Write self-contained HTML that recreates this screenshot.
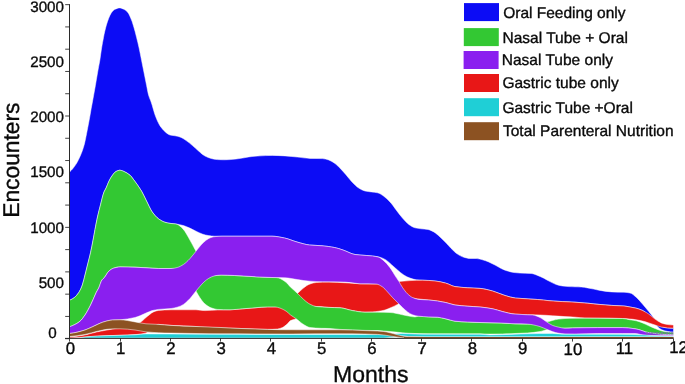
<!DOCTYPE html>
<html><head><meta charset="utf-8"><title>Encounters by feeding type</title>
<style>
html,body{margin:0;padding:0;background:#fff;}
body{width:685px;height:384px;overflow:hidden;}
svg{display:block;font-family:"Liberation Sans",Arial,sans-serif;}
text{fill:#0a0a0a;stroke:#0a0a0a;stroke-width:0.35px;text-rendering:geometricPrecision;}
</style></head><body>
<svg width="685" height="384" viewBox="0 0 685 384">
<rect width="685" height="384" fill="#fff"/>
<g stroke="#fff" stroke-width="0.5" stroke-linejoin="round">
<path fill="#0c0cf5" d="M69.5 172.0C69.7 171.8 69.8 171.7 70.0 171.5C70.8 170.7 71.7 170.0 72.5 169.0C74.0 167.3 75.4 165.2 76.9 162.8C77.9 161.0 79.0 158.8 80.0 156.5C80.8 154.6 81.7 152.6 82.5 150.2C83.1 148.4 83.8 146.5 84.4 144.0C85.1 141.2 85.9 137.2 86.6 133.5C87.4 129.5 88.2 125.3 89.0 121.0C89.8 117.0 90.5 112.7 91.2 108.5C92.0 104.3 92.8 100.2 93.5 96.0C94.1 92.5 94.8 89.1 95.4 85.5C96.1 81.5 96.8 77.0 97.5 73.0C98.2 68.7 99.0 65.1 99.8 60.5C100.4 56.7 101.0 51.8 101.6 48.0C102.2 44.1 102.9 40.8 103.5 37.5C103.9 35.3 104.3 33.1 104.8 31.2C105.3 28.9 105.9 26.8 106.4 25.0C107.1 22.7 107.8 20.5 108.5 18.8C109.5 16.2 110.6 13.8 111.6 12.5C112.7 11.0 113.9 9.8 115.0 9.3C116.5 8.6 118.0 7.9 119.5 7.9C121.0 7.9 122.5 8.6 124.0 9.3C125.3 9.9 126.6 11.0 127.9 12.5C128.9 13.7 130.0 16.3 131.0 18.8C131.8 20.5 132.5 22.6 133.2 25.0C133.8 26.8 134.4 29.1 135.0 31.2C135.5 33.2 136.1 35.3 136.6 37.5C137.4 40.9 138.3 44.2 139.1 48.0C139.9 51.8 140.8 56.3 141.6 60.5C142.4 64.7 143.3 68.8 144.1 73.0C144.9 77.2 145.8 81.4 146.6 85.5C147.3 89.0 148.0 93.3 148.8 95.8C149.6 98.6 150.4 99.8 151.2 102.2C151.9 104.1 152.5 106.4 153.1 108.5C153.7 110.6 154.4 112.9 155.0 114.8C155.8 117.1 156.7 119.2 157.5 121.0C158.7 123.5 159.8 125.7 161.0 127.2C162.5 129.3 164.1 131.0 165.6 132.2C167.1 133.4 168.5 134.6 170.0 135.0C171.7 135.4 173.3 135.4 175.0 135.8C176.7 136.1 178.3 136.4 180.0 137.0C182.1 137.7 184.2 139.2 186.2 140.6C188.3 142.0 190.4 143.8 192.5 145.6C194.6 147.4 196.7 149.5 198.8 151.2C200.8 153.0 202.9 154.9 205.0 156.0C207.1 157.1 209.2 158.0 211.2 158.5C213.3 159.0 215.4 159.5 217.5 159.6C219.6 159.7 221.7 159.8 223.8 159.8C225.8 159.8 227.9 159.7 230.0 159.6C232.1 159.5 234.2 159.2 236.2 159.0C238.3 158.8 240.4 158.4 242.5 158.1C244.6 157.8 246.7 157.2 248.8 156.9C250.8 156.6 252.9 156.4 255.0 156.2C258.5 156.0 262.1 155.7 265.6 155.6C267.9 155.5 270.2 155.4 272.5 155.4C276.7 155.4 280.8 155.7 285.0 155.9C289.2 156.1 293.3 156.7 297.5 157.1C301.7 157.5 305.8 158.3 310.0 158.4C314.2 158.5 318.3 158.5 322.5 158.6C324.6 158.7 326.7 159.3 328.8 160.0C330.8 160.7 332.9 162.0 335.0 163.5C337.1 165.0 339.2 167.3 341.2 169.4C342.9 171.1 344.6 173.1 346.2 175.0C348.3 177.4 350.4 180.4 352.5 182.5C354.6 184.6 356.7 186.8 358.8 188.1C360.8 189.4 362.9 190.5 365.0 191.0C367.1 191.5 369.2 191.6 371.2 191.9C373.3 192.2 375.4 192.3 377.5 192.8C379.6 193.2 381.7 194.8 383.8 196.2C385.8 197.7 387.9 199.7 390.0 201.9C392.1 204.1 394.2 207.3 396.2 210.0C398.3 212.7 400.4 215.7 402.5 218.1C404.6 220.5 406.7 222.9 408.8 224.4C410.8 225.9 412.9 227.2 415.0 227.8C417.1 228.3 419.2 228.5 421.2 228.8C423.3 229.0 425.4 229.1 427.5 229.4C429.6 229.7 431.7 230.8 433.8 231.9C435.8 233.0 437.9 235.1 440.0 236.9C442.1 238.7 444.2 240.9 446.2 243.1C447.9 244.8 449.6 246.9 451.2 248.5C453.3 250.5 455.4 252.8 457.5 254.1C459.6 255.4 461.7 256.7 463.8 257.2C465.8 257.8 467.9 258.5 470.0 258.5C472.1 258.5 474.2 258.5 476.2 258.5C478.3 258.5 480.4 259.2 482.5 259.8C484.6 260.3 486.7 261.1 488.8 262.0C490.8 262.9 492.9 263.9 495.0 265.0C497.1 266.1 499.2 267.5 501.2 268.5C503.3 269.5 505.4 270.4 507.5 271.0C509.6 271.6 511.7 272.2 513.8 272.5C515.8 272.8 517.9 273.0 520.0 273.1C523.8 273.3 527.5 273.2 531.2 273.5C533.3 273.6 535.4 274.6 537.5 275.4C539.6 276.2 541.7 277.2 543.8 278.2C545.8 279.3 547.9 280.6 550.0 281.6C552.1 282.6 554.2 283.8 556.2 284.5C558.3 285.2 560.4 285.7 562.5 286.0C564.6 286.3 566.7 286.5 568.8 286.6C570.8 286.7 572.9 286.7 575.0 286.8C577.1 286.8 579.2 286.9 581.2 287.0C583.3 287.1 585.4 287.6 587.5 287.9C589.6 288.2 591.7 288.7 593.8 289.1C595.8 289.5 597.9 290.1 600.0 290.4C603.8 291.0 607.7 291.7 611.5 291.9C615.7 292.1 619.8 292.0 624.0 292.2C626.0 292.3 628.0 292.6 630.0 293.0C632.1 293.4 634.2 295.5 636.2 297.2C638.3 299.0 640.4 301.6 642.5 304.0C644.6 306.4 646.7 309.0 648.8 311.6C650.4 313.7 652.1 315.9 653.8 317.9C655.2 319.6 656.6 321.4 658.0 323.0C659.1 324.2 660.2 326.2 661.2 326.6C663.3 327.4 665.4 327.7 667.5 327.9C669.5 328.1 671.5 328.2 673.5 328.2L673.5 332.0C671.5 332.0 669.5 331.7 667.5 331.4C665.4 331.1 663.3 330.4 661.2 329.5C659.8 328.8 658.4 327.4 656.9 326.0C655.6 324.8 654.3 323.1 653.0 321.5C651.6 319.8 650.2 317.5 648.8 316.0C646.7 313.8 644.6 311.4 642.5 310.4C640.4 309.4 638.3 308.8 636.2 308.2C634.2 307.7 632.1 307.4 630.0 307.0C628.0 306.6 626.0 306.2 624.0 306.0C619.8 305.7 615.7 305.6 611.5 305.4C607.3 305.1 603.2 304.8 599.0 304.4C595.2 304.1 591.3 303.6 587.5 303.2C583.3 302.9 579.2 302.5 575.0 302.2C570.8 302.0 566.7 301.8 562.5 301.6C558.3 301.4 554.2 301.1 550.0 300.8C545.8 300.4 541.7 299.8 537.5 299.5C533.3 299.2 529.2 299.0 525.0 298.7C521.9 298.5 518.7 298.4 515.6 298.1C512.1 297.7 508.5 296.5 505.0 295.5C500.8 294.3 496.7 292.1 492.5 291.0C488.3 289.9 484.2 288.7 480.0 288.4C475.8 288.1 471.7 288.0 467.5 287.8C463.3 287.5 459.2 287.2 455.0 286.6C451.9 286.1 448.7 283.9 445.6 283.1C442.1 282.2 438.5 281.3 435.0 281.0C430.8 280.6 426.7 280.5 422.5 280.2C420.4 280.1 418.3 280.0 416.2 279.8C414.2 279.5 412.1 278.8 410.0 278.1C407.9 277.4 405.8 276.3 403.8 275.0C401.7 273.7 399.6 271.8 397.5 270.0C395.4 268.2 393.3 266.2 391.2 264.4C389.2 262.6 387.1 260.5 385.0 259.4C382.9 258.3 380.8 257.3 378.8 256.9C376.7 256.5 374.6 256.2 372.5 256.0C368.3 255.6 364.2 255.4 360.0 255.0C358.3 254.8 356.7 254.7 355.0 254.5C351.0 253.9 347.0 251.3 343.0 250.0C340.2 249.1 337.3 248.0 334.5 247.5C330.3 246.7 326.2 246.1 322.0 245.8C317.8 245.4 313.7 245.4 309.5 245.0C305.3 244.6 301.2 243.1 297.0 242.0C292.8 240.9 288.7 238.8 284.5 238.0C280.3 237.2 276.2 236.2 272.0 236.2C263.7 236.2 255.3 236.2 247.0 236.2C238.7 236.2 230.3 236.2 222.0 236.2C219.6 236.2 217.2 236.2 214.8 236.2C212.7 236.2 210.6 235.9 208.5 235.6C206.4 235.3 204.3 234.7 202.2 234.0C200.2 233.3 198.1 232.2 196.0 231.2C193.9 230.3 191.8 229.0 189.8 228.1C187.7 227.2 185.6 226.2 183.5 225.6C181.0 224.9 178.5 224.3 176.0 224.0C174.3 223.8 172.7 223.7 171.0 223.5C168.9 223.2 166.8 222.9 164.8 222.2C162.7 221.6 160.6 220.3 158.5 218.8C156.4 217.2 154.3 214.8 152.2 211.9C150.2 209.0 148.1 204.1 146.0 200.0C144.6 197.3 143.3 194.2 141.9 191.8C141.1 190.3 140.2 189.0 139.4 187.8C137.9 185.5 136.5 183.5 135.0 181.5C133.3 179.3 131.7 176.7 130.0 175.2C128.0 173.6 126.0 172.3 124.0 171.5C122.6 170.9 121.2 170.2 119.8 170.2C118.5 170.2 117.2 170.9 116.0 171.5C114.8 172.1 113.7 173.7 112.5 175.2C111.2 176.9 110.0 179.0 108.8 181.5C107.9 183.2 107.1 186.0 106.2 187.8C105.5 189.4 104.8 190.2 104.0 192.0C102.9 194.8 101.7 200.1 100.6 204.5C99.6 208.5 98.5 212.4 97.5 217.0C96.7 220.7 95.8 225.1 95.0 229.5C94.4 232.8 93.7 236.7 93.1 240.0C92.3 244.4 91.4 248.8 90.6 252.5C89.6 257.1 88.5 260.8 87.5 265.0C86.5 269.2 85.4 273.5 84.4 277.5C84.2 278.3 84.0 279.2 83.8 280.0C83.1 282.2 82.5 284.7 81.9 286.2C80.9 288.9 79.8 290.9 78.8 292.5C77.3 294.6 75.9 296.4 74.4 297.5C73.0 298.6 71.6 299.4 70.2 300.0C70.0 300.1 69.8 300.2 69.5 300.3Z"/>
<path fill="#e81717" d="M69.5 337.0C74.7 336.6 79.8 335.8 85.0 334.9C89.2 334.2 93.3 332.6 97.5 331.8C101.7 330.9 105.8 330.3 110.0 329.5C113.3 328.9 116.7 328.2 120.0 327.5C123.3 326.8 126.7 326.3 130.0 325.5C133.3 324.7 136.7 324.0 140.0 322.5C142.0 321.6 144.0 319.2 146.0 317.5C147.2 316.5 148.5 315.3 149.8 314.4C151.0 313.5 152.2 312.4 153.5 311.9C155.2 311.2 156.8 310.6 158.5 310.4C162.7 310.0 166.8 309.8 171.0 309.8C179.3 309.8 187.7 309.8 196.0 309.8C199.0 309.8 202.0 310.6 205.0 310.6C209.2 310.6 213.3 310.1 217.5 310.0C221.7 309.9 225.8 309.9 230.0 309.8C234.2 309.6 238.3 309.1 242.5 308.8C246.7 308.4 250.8 308.1 255.0 307.8C259.2 307.4 263.3 306.9 267.5 306.9C270.0 306.9 272.5 306.9 275.0 306.9C277.3 306.9 279.7 305.2 282.0 304.0C284.7 302.7 287.3 300.8 290.0 299.0C292.5 297.3 295.0 295.5 297.5 293.4C299.6 291.7 301.7 289.3 303.8 287.8C305.8 286.2 307.9 284.7 310.0 284.0C312.1 283.3 314.2 282.6 316.2 282.5C320.4 282.2 324.6 282.1 328.8 282.1C334.4 282.1 340.0 282.5 345.6 282.8C350.4 283.0 355.2 283.6 360.0 283.8C365.4 283.9 370.8 284.0 376.2 284.0C379.2 284.0 382.1 283.6 385.0 283.3C387.3 283.1 389.7 282.8 392.0 282.5C394.2 282.2 396.5 281.7 398.8 281.5C402.5 281.1 406.2 280.8 410.0 280.6C414.2 280.4 418.3 280.2 422.5 280.2C426.7 280.2 430.8 280.6 435.0 281.0C438.5 281.3 442.1 282.2 445.6 283.1C448.7 283.9 451.9 286.1 455.0 286.6C459.2 287.2 463.3 287.5 467.5 287.8C471.7 288.0 475.8 288.1 480.0 288.4C484.2 288.7 488.3 289.9 492.5 291.0C496.7 292.1 500.8 294.3 505.0 295.5C508.5 296.5 512.1 297.7 515.6 298.1C518.7 298.4 521.9 298.5 525.0 298.7C529.2 299.0 533.3 299.2 537.5 299.5C541.7 299.8 545.8 300.4 550.0 300.8C554.2 301.1 558.3 301.4 562.5 301.6C566.7 301.8 570.8 302.0 575.0 302.2C579.2 302.5 583.3 302.9 587.5 303.2C591.3 303.6 595.2 304.1 599.0 304.4C603.2 304.8 607.3 305.1 611.5 305.4C615.7 305.6 619.8 305.7 624.0 306.0C626.0 306.2 628.0 306.6 630.0 307.0C632.1 307.4 634.2 307.7 636.2 308.2C638.3 308.8 640.4 309.5 642.5 310.4C644.6 311.3 646.7 312.7 648.8 314.1C650.8 315.5 652.9 317.7 655.0 319.1C657.1 320.5 659.2 322.1 661.2 322.9C663.3 323.7 665.4 324.2 667.5 324.5C669.5 324.8 671.5 325.0 673.5 325.0L673.5 328.2C671.5 328.2 669.5 328.1 667.5 327.9C665.4 327.7 663.3 327.4 661.2 327.0C659.2 326.6 657.1 325.7 655.0 325.0C652.9 324.3 650.8 323.6 648.8 322.9C646.7 322.2 644.6 321.5 642.5 321.0C640.4 320.5 638.3 320.1 636.2 319.8C634.2 319.4 632.1 319.2 630.0 319.0C627.5 318.8 625.0 318.6 622.5 318.5C618.3 318.3 614.2 318.3 610.0 318.2C601.7 318.1 593.3 318.1 585.0 318.0C581.9 317.9 578.7 317.5 575.6 317.2C572.1 317.0 568.5 316.8 565.0 316.6C560.8 316.3 556.7 316.0 552.5 315.8C548.3 315.5 544.2 315.1 540.0 315.0C535.8 314.9 531.7 314.9 527.5 314.8C523.3 314.6 519.2 314.4 515.0 314.1C510.8 313.8 506.7 312.6 502.5 311.6C499.2 310.8 495.8 309.4 492.5 308.8C488.3 308.0 484.2 307.4 480.0 307.0C475.8 306.6 471.7 306.6 467.5 306.2C463.3 305.9 459.2 305.6 455.0 305.0C451.9 304.5 448.7 303.2 445.6 302.5C442.9 301.9 440.2 301.4 437.5 301.0C434.6 300.6 431.7 300.3 428.8 300.0C425.0 299.6 421.2 299.3 417.5 298.9C415.4 298.7 413.3 298.0 411.2 298.0C409.2 298.0 407.1 299.6 405.0 300.5C403.3 301.3 401.7 302.2 400.0 303.1C399.2 303.5 398.3 304.0 397.5 304.4C395.4 305.5 393.3 306.6 391.2 307.5C389.2 308.4 387.1 309.4 385.0 310.0C382.9 310.6 380.8 311.0 378.8 311.2C376.7 311.5 374.6 311.8 372.5 311.9C370.0 312.1 367.5 312.2 365.0 312.2C360.8 312.2 356.7 311.3 352.5 310.6C348.3 309.9 344.2 308.0 340.0 307.8C336.2 307.5 332.5 307.6 328.8 307.4C324.6 307.2 320.4 306.5 316.2 306.5C314.2 306.5 312.1 306.5 310.0 306.5C308.3 306.5 306.7 309.0 305.0 310.5C303.3 312.0 301.7 314.0 300.0 315.5C298.8 316.7 297.5 318.1 296.2 318.8C294.4 319.7 292.5 319.6 290.6 320.6C289.6 321.1 288.5 322.8 287.5 323.8C285.8 325.2 284.2 326.8 282.5 327.5C280.8 328.2 279.2 328.9 277.5 329.0C274.2 329.3 270.8 329.4 267.5 329.4C263.3 329.4 259.2 329.1 255.0 329.0C246.7 328.7 238.3 328.4 230.0 328.1C221.7 327.8 213.3 327.7 205.0 327.2C202.0 327.1 199.0 326.7 196.0 326.5C187.7 326.0 179.3 325.9 171.0 325.4C166.8 325.2 162.7 324.4 158.5 324.4C157.3 324.4 156.2 325.3 155.0 326.0C153.3 327.0 151.7 328.7 150.0 330.0C148.5 331.1 147.1 332.8 145.6 333.2C142.1 334.1 138.5 334.3 135.0 334.6C130.0 335.0 125.0 335.1 120.0 335.3C116.7 335.4 113.3 335.5 110.0 335.6C105.8 335.7 101.7 335.9 97.5 336.1C93.3 336.3 89.2 336.7 85.0 337.0C79.8 337.4 74.7 337.7 69.5 338.0Z"/>
<path fill="#33c833" d="M69.5 300.3C69.8 300.2 70.0 300.1 70.2 300.0C71.6 299.4 73.0 298.6 74.4 297.5C75.9 296.4 77.3 294.6 78.8 292.5C79.8 290.9 80.9 288.9 81.9 286.2C82.5 284.7 83.1 282.2 83.8 280.0C84.0 279.2 84.2 278.3 84.4 277.5C85.4 273.5 86.5 269.2 87.5 265.0C88.5 260.8 89.6 257.1 90.6 252.5C91.4 248.8 92.3 244.4 93.1 240.0C93.7 236.7 94.4 232.8 95.0 229.5C95.8 225.1 96.7 220.7 97.5 217.0C98.5 212.4 99.6 208.5 100.6 204.5C101.7 200.1 102.9 194.8 104.0 192.0C104.8 190.2 105.5 189.4 106.2 187.8C107.1 186.0 107.9 183.2 108.8 181.5C110.0 179.0 111.2 176.9 112.5 175.2C113.7 173.7 114.8 172.1 116.0 171.5C117.2 170.9 118.5 170.2 119.8 170.2C121.2 170.2 122.6 170.9 124.0 171.5C126.0 172.3 128.0 173.6 130.0 175.2C131.7 176.7 133.3 179.3 135.0 181.5C136.5 183.5 137.9 185.5 139.4 187.8C140.2 189.0 141.1 190.3 141.9 191.8C143.3 194.2 144.6 197.3 146.0 200.0C148.1 204.1 150.2 209.0 152.2 211.9C154.3 214.8 156.4 217.2 158.5 218.8C160.6 220.3 162.7 221.6 164.8 222.2C166.8 222.9 168.9 223.2 171.0 223.5C172.7 223.7 174.3 223.7 176.0 224.0C177.7 224.3 179.3 225.6 181.0 226.9C182.2 227.9 183.5 229.5 184.8 231.2C186.0 233.0 187.2 235.3 188.5 237.5C189.5 239.3 190.6 241.2 191.6 243.1C192.4 244.6 193.3 246.2 194.1 247.8C194.7 248.9 195.4 250.0 196.0 251.2C197.2 253.8 198.5 257.2 199.8 260.0C201.0 262.8 202.2 266.3 203.5 268.0C205.2 270.3 206.8 272.0 208.5 273.0C210.6 274.2 212.7 275.6 214.8 275.6C216.8 275.6 218.9 275.0 221.0 275.0C225.5 275.0 230.0 275.3 234.5 275.5C238.7 275.7 242.8 276.0 247.0 276.2C251.2 276.5 255.3 276.8 259.5 277.0C263.7 277.2 267.8 277.5 272.0 277.5C273.4 277.5 274.8 277.5 276.2 277.5C279.2 277.5 282.1 279.6 285.0 281.5C287.1 282.8 289.2 285.8 291.2 287.8C293.3 289.7 295.4 291.4 297.5 293.4C299.6 295.4 301.7 297.8 303.8 299.6C305.8 301.4 307.9 303.2 310.0 304.2C312.1 305.3 314.2 306.2 316.2 306.5C320.4 307.0 324.6 307.2 328.8 307.4C332.5 307.6 336.2 307.5 340.0 307.8C344.2 308.0 348.3 309.9 352.5 310.6C356.7 311.3 360.8 312.2 365.0 312.2C369.2 312.2 373.3 312.2 377.5 312.2C381.7 312.2 385.8 312.4 390.0 312.5C394.2 312.6 398.3 314.0 402.5 314.8C406.7 315.5 410.8 316.9 415.0 316.9C416.2 316.9 417.5 316.2 418.8 316.2C422.1 316.2 425.4 316.7 428.8 316.9C431.7 317.0 434.6 317.1 437.5 317.2C440.2 317.4 442.9 318.2 445.6 318.8C448.7 319.4 451.9 320.9 455.0 321.2C459.2 321.7 463.3 321.8 467.5 322.0C471.7 322.2 475.8 322.4 480.0 322.5C487.0 322.7 494.0 322.8 501.0 323.0C505.7 323.2 510.3 323.6 515.0 323.8C519.2 323.9 523.3 324.1 527.5 324.1C531.7 324.1 535.8 323.5 540.0 323.0C542.9 322.7 545.8 322.3 548.8 321.6C550.0 321.3 551.2 320.7 552.5 320.4C554.6 319.9 556.7 319.4 558.8 319.1C560.8 318.8 562.9 318.6 565.0 318.5C568.3 318.4 571.7 318.3 575.0 318.3C578.3 318.3 581.7 318.2 585.0 318.2C593.3 318.2 601.7 318.3 610.0 318.4C614.2 318.4 618.3 318.4 622.5 318.5C625.0 318.5 627.5 319.3 630.0 319.8C632.1 320.1 634.2 320.3 636.2 320.8C638.3 321.2 640.4 322.1 642.5 322.9C644.6 323.7 646.7 324.8 648.8 325.8C650.8 326.7 652.9 327.7 655.0 328.5C657.1 329.3 659.2 330.2 661.2 330.8C663.3 331.3 665.4 331.8 667.5 332.0C669.5 332.2 671.5 332.4 673.5 332.5L673.5 334.8C669.3 334.8 665.2 334.6 661.0 334.3C659.0 334.2 657.0 333.8 655.0 333.5C651.9 333.0 648.7 332.8 645.6 332.0C644.6 331.7 643.5 331.1 642.5 330.8C640.0 329.9 637.5 329.1 635.0 328.8C630.8 328.2 626.7 327.6 622.5 327.6C614.2 327.6 605.8 327.6 597.5 327.6C589.2 327.6 580.8 327.7 572.5 327.9C570.0 328.0 567.5 328.2 565.0 328.2C562.0 328.4 559.0 328.4 556.0 328.5C553.2 328.6 550.3 329.0 547.5 329.5C545.0 329.9 542.5 331.2 540.0 331.6C535.8 332.3 531.7 332.6 527.5 332.9C523.3 333.2 519.2 333.3 515.0 333.5C510.8 333.7 506.7 333.8 502.5 333.9C498.3 334.0 494.2 334.1 490.0 334.1C486.7 334.1 483.3 333.8 480.0 333.8C471.7 333.8 463.3 333.8 455.0 333.8C446.7 333.8 438.3 333.8 430.0 333.8C425.0 333.8 420.0 333.6 415.0 333.5C410.8 333.4 406.7 333.1 402.5 332.8C398.3 332.4 394.2 331.8 390.0 331.5C385.8 331.2 381.7 330.7 377.5 330.6C373.3 330.5 369.2 330.5 365.0 330.4C360.8 330.3 356.7 330.2 352.5 330.0C348.3 329.8 344.2 329.7 340.0 329.4C336.7 329.2 333.3 328.6 330.0 328.5C327.1 328.4 324.2 328.4 321.2 328.3C317.5 328.2 313.8 328.0 310.0 327.5C307.5 327.2 305.0 325.3 302.5 323.8C300.4 322.5 298.3 320.3 296.2 318.8C294.4 317.4 292.5 316.4 290.6 315.0C289.2 313.9 287.7 312.2 286.2 311.2C284.2 309.9 282.1 308.8 280.0 308.1C278.3 307.6 276.7 306.9 275.0 306.9C272.5 306.9 270.0 306.9 267.5 306.9C263.3 306.9 259.2 307.4 255.0 307.8C250.8 308.1 246.7 308.4 242.5 308.8C238.3 309.1 234.2 309.8 230.0 309.8C225.8 309.8 221.5 309.6 217.2 309.4C215.2 309.3 213.1 308.5 211.0 307.8C208.9 307.0 206.8 305.5 204.8 303.8C203.1 302.3 201.4 299.9 199.8 297.5C198.5 295.7 197.2 293.1 196.0 291.0C193.9 287.5 191.8 283.7 189.8 281.0C187.7 278.3 185.6 275.7 183.5 274.0C181.4 272.3 179.3 270.7 177.2 270.0C175.2 269.3 173.1 268.5 171.0 268.5C166.8 268.5 162.7 268.5 158.5 268.5C154.3 268.5 150.2 268.0 146.0 267.8C142.3 267.6 138.7 267.4 135.0 267.2C130.0 267.1 125.0 266.9 120.0 266.9C117.9 266.9 115.8 267.5 113.8 268.1C112.1 268.6 110.4 269.8 108.8 271.2C107.3 272.5 105.9 275.8 104.4 277.5C103.6 278.5 102.7 278.8 101.9 280.0C100.9 281.5 99.8 285.5 98.8 287.8C97.9 289.5 97.1 290.8 96.2 292.5C94.4 296.3 92.5 301.3 90.6 305.0C88.7 308.7 86.9 312.3 85.0 315.0C83.3 317.4 81.7 319.9 80.0 321.2C77.5 323.3 75.0 324.5 72.5 325.6C71.8 325.9 71.0 326.4 70.2 326.5C70.0 326.5 69.8 326.6 69.5 326.6Z"/>
<path fill="#8a1fef" d="M69.5 326.6C69.8 326.6 70.0 326.5 70.2 326.5C71.0 326.4 71.8 325.9 72.5 325.6C75.0 324.5 77.5 323.3 80.0 321.2C81.7 319.9 83.3 317.4 85.0 315.0C86.9 312.3 88.7 308.7 90.6 305.0C92.5 301.3 94.4 296.3 96.2 292.5C97.1 290.8 97.9 289.5 98.8 287.8C99.8 285.5 100.9 281.5 101.9 280.0C102.7 278.8 103.6 278.5 104.4 277.5C105.9 275.8 107.3 272.5 108.8 271.2C110.4 269.8 112.1 268.6 113.8 268.1C115.8 267.5 117.9 266.9 120.0 266.9C125.0 266.9 130.0 267.1 135.0 267.2C138.7 267.4 142.3 267.6 146.0 267.8C150.2 268.0 154.3 268.5 158.5 268.5C162.7 268.5 166.8 268.5 171.0 268.5C173.1 268.5 175.2 268.0 177.2 267.5C179.3 267.0 181.4 265.7 183.5 264.4C185.6 263.1 187.7 260.9 189.8 258.8C191.8 256.6 193.9 253.8 196.0 251.2C197.7 249.2 199.3 246.8 201.0 245.0C202.7 243.2 204.3 241.5 206.0 240.3C207.7 239.1 209.3 238.0 211.0 237.5C212.7 237.0 214.3 236.6 216.0 236.5C218.0 236.4 220.0 236.2 222.0 236.2C230.3 236.2 238.7 236.2 247.0 236.2C255.3 236.2 263.7 236.2 272.0 236.2C276.2 236.2 280.3 237.2 284.5 238.0C288.7 238.8 292.8 240.9 297.0 242.0C301.2 243.1 305.3 244.6 309.5 245.0C313.7 245.4 317.8 245.4 322.0 245.8C326.2 246.1 330.3 246.7 334.5 247.5C337.3 248.0 340.2 249.1 343.0 250.0C347.0 251.3 351.0 253.9 355.0 254.5C356.7 254.7 358.3 254.8 360.0 255.0C364.2 255.4 368.3 255.5 372.5 256.0C374.6 256.2 376.7 256.6 378.8 257.2C380.8 257.9 382.9 260.0 385.0 261.9C387.1 263.8 389.2 266.5 391.2 269.4C392.5 271.2 393.8 273.6 395.0 275.6C396.2 277.6 397.5 279.3 398.8 281.2C400.0 283.2 401.2 285.7 402.5 287.5C404.2 289.9 405.8 292.2 407.5 293.8C409.2 295.3 410.8 296.8 412.5 297.5C414.6 298.4 416.7 299.2 418.8 299.4C422.1 299.8 425.4 299.7 428.8 300.0C431.7 300.2 434.6 300.6 437.5 301.0C440.2 301.4 442.9 301.9 445.6 302.5C448.7 303.2 451.9 304.5 455.0 305.0C459.2 305.6 463.3 305.9 467.5 306.2C471.7 306.6 475.8 306.6 480.0 307.0C484.2 307.4 488.3 308.0 492.5 308.8C495.8 309.4 499.2 310.8 502.5 311.6C506.7 312.6 510.8 313.8 515.0 314.1C519.2 314.4 523.3 314.5 527.5 314.8C529.2 314.8 530.8 314.9 532.5 315.0C535.0 315.2 537.5 316.4 540.0 317.5C542.1 318.4 544.2 320.3 546.2 321.6C548.3 322.9 550.4 324.6 552.5 325.4C554.6 326.2 556.7 326.8 558.8 327.2C560.8 327.7 562.9 328.2 565.0 328.2C567.5 328.2 570.0 328.0 572.5 327.9C580.8 327.7 589.2 327.6 597.5 327.6C605.8 327.6 614.2 327.6 622.5 327.6C626.7 327.6 630.8 328.2 635.0 328.8C637.5 329.1 640.0 329.9 642.5 330.8C643.5 331.1 644.6 331.7 645.6 332.0C648.7 332.8 651.9 333.0 655.0 333.5C657.0 333.8 659.0 334.2 661.0 334.3C665.2 334.6 669.3 334.8 673.5 334.8L673.5 335.8C664.2 335.8 654.9 335.7 645.6 335.4C642.1 335.3 638.5 333.5 635.0 333.5C630.8 333.5 626.7 333.5 622.5 333.5C614.2 333.5 605.8 333.5 597.5 333.5C590.0 333.5 582.5 334.1 575.0 334.1C571.7 334.1 568.3 334.0 565.0 333.9C562.9 333.8 560.8 333.6 558.8 333.2C556.7 332.9 554.6 332.3 552.5 331.6C550.4 330.9 548.3 329.9 546.2 329.1C544.2 328.3 542.1 327.3 540.0 326.6C537.9 325.9 535.8 325.4 533.8 325.0C531.7 324.6 529.6 324.2 527.5 324.1C523.3 323.9 519.2 323.9 515.0 323.8C510.3 323.6 505.7 323.2 501.0 323.0C494.0 322.8 487.0 322.7 480.0 322.5C475.8 322.4 471.7 322.2 467.5 322.0C463.3 321.8 459.2 321.7 455.0 321.2C451.9 320.9 448.7 319.4 445.6 318.8C442.9 318.2 440.2 317.4 437.5 317.2C434.6 317.1 431.7 317.0 428.8 316.9C425.4 316.7 422.1 316.6 418.8 316.2C416.7 316.0 414.6 315.5 412.5 314.8C410.8 314.2 409.2 313.1 407.5 311.9C405.8 310.7 404.2 309.1 402.5 307.5C400.8 305.9 399.2 304.2 397.5 302.5C395.8 300.8 394.2 299.3 392.5 297.5C390.8 295.7 389.2 293.7 387.5 291.9C385.8 290.1 384.2 288.0 382.5 286.9C380.4 285.6 378.3 284.1 376.2 284.0C370.8 283.8 365.4 283.9 360.0 283.8C355.0 283.6 350.0 282.2 345.0 282.1C337.5 281.9 330.0 281.9 322.5 281.8C318.3 281.7 314.2 281.5 310.0 281.2C305.8 281.0 301.7 280.2 297.5 279.6C293.3 279.0 289.2 277.9 285.0 277.8C280.7 277.6 276.3 277.6 272.0 277.5C267.8 277.4 263.7 277.2 259.5 277.0C255.3 276.8 251.2 276.5 247.0 276.2C242.8 276.0 238.7 275.7 234.5 275.5C230.0 275.3 225.5 275.1 221.0 275.1C218.9 275.1 216.8 275.4 214.8 275.8C212.7 276.2 210.6 277.3 208.5 278.5C207.0 279.3 205.5 280.7 204.0 282.0C202.6 283.3 201.2 284.9 199.8 286.5C198.5 287.9 197.2 289.5 196.0 291.0C193.9 293.5 191.8 296.6 189.8 298.8C187.7 300.9 185.6 303.1 183.5 304.4C181.4 305.7 179.3 306.7 177.2 307.2C175.2 307.8 173.1 308.3 171.0 308.5C166.8 309.0 162.7 308.9 158.5 309.4C156.4 309.6 154.3 310.1 152.2 310.6C150.2 311.1 148.1 312.3 146.0 313.1C142.3 314.6 138.7 316.7 135.0 317.5C130.0 318.6 125.0 319.5 120.0 319.8C117.5 319.9 115.0 319.9 112.5 320.0C109.2 320.2 105.8 321.3 102.5 322.3C100.8 322.8 99.2 323.7 97.5 324.4C95.8 325.1 94.2 326.0 92.5 326.8C90.0 327.9 87.5 329.2 85.0 330.0C79.8 331.6 74.7 333.0 69.5 333.5Z"/>
<path fill="#1fcfd6" d="M80.0 338.0C81.7 337.6 83.3 337.2 85.0 337.0C89.2 336.5 93.3 336.3 97.5 336.1C101.7 335.9 105.8 335.7 110.0 335.6C113.3 335.5 116.7 335.4 120.0 335.3C125.0 335.1 130.0 335.0 135.0 334.8C138.7 334.6 142.3 333.9 146.0 333.9C154.3 333.9 162.7 334.0 171.0 334.0C187.7 334.1 204.3 334.3 221.0 334.3C244.0 334.4 267.0 334.4 290.0 334.4C306.7 334.4 323.3 334.4 340.0 334.4C352.5 334.4 365.0 334.4 377.5 334.4C381.7 334.4 385.8 334.1 390.0 334.0C394.2 333.9 398.3 333.5 402.5 333.5C406.7 333.5 410.8 333.9 415.0 334.0C420.0 334.1 425.0 334.2 430.0 334.2C438.3 334.3 446.7 334.3 455.0 334.3C463.3 334.3 471.7 334.3 480.0 334.3C483.3 334.3 486.7 334.9 490.0 334.9C498.3 334.9 506.7 334.5 515.0 334.2C519.2 334.1 523.3 333.9 527.5 333.8C535.8 333.6 544.2 333.4 552.5 333.4C556.7 333.4 560.8 334.3 565.0 334.3C576.7 334.3 588.3 334.3 600.0 334.3C611.7 334.3 623.3 334.4 635.0 334.5C641.7 334.6 648.3 335.5 655.0 335.7C661.2 335.9 667.3 336.1 673.5 336.2L673.5 336.9C590.7 336.9 507.8 336.9 425.0 336.9C419.6 336.9 414.2 336.8 408.8 336.6C406.7 336.5 404.6 336.0 402.5 336.0C400.4 336.0 398.3 336.7 396.2 336.9C394.2 337.1 392.1 337.3 390.0 337.5C387.9 337.7 385.8 338.0 383.8 338.0C282.5 338.0 181.2 338.0 80.0 338.0Z"/>
<path fill="#8c5222" d="M69.5 333.5C74.7 333.0 79.8 331.6 85.0 330.0C87.5 329.2 90.0 327.9 92.5 326.8C94.2 326.0 95.8 325.1 97.5 324.4C99.2 323.7 100.8 322.8 102.5 322.3C105.8 321.3 109.2 320.2 112.5 320.0C115.0 319.9 117.5 319.8 120.0 319.8C125.0 319.8 130.0 321.1 135.0 321.9C138.7 322.5 142.3 323.5 146.0 323.8C150.2 324.1 154.3 324.1 158.5 324.4C162.7 324.6 166.8 325.2 171.0 325.4C179.3 325.9 187.7 326.2 196.0 326.5C204.3 326.8 212.7 327.1 221.0 327.5C224.0 327.7 227.0 328.0 230.0 328.1C238.3 328.5 246.7 328.7 255.0 329.0C259.2 329.1 263.3 329.3 267.5 329.4C271.7 329.5 275.8 329.7 280.0 329.7C286.7 329.7 293.3 329.8 300.0 329.8C313.3 329.8 326.7 329.8 340.0 329.8C348.3 329.8 356.7 330.3 365.0 330.6C369.2 330.7 373.3 330.8 377.5 331.0C379.6 331.1 381.7 331.3 383.8 331.5C385.8 331.7 387.9 332.3 390.0 332.8C392.1 333.2 394.2 333.9 396.2 334.4C398.3 334.9 400.4 335.6 402.5 335.9C404.6 336.2 406.7 336.5 408.8 336.6C414.2 336.8 419.6 336.9 425.0 336.9C507.8 336.9 590.7 336.9 673.5 336.9L673.5 338.1C585.2 338.1 497.0 338.1 408.8 338.1C406.7 338.1 404.6 337.9 402.5 337.8C400.4 337.6 398.3 337.2 396.2 336.9C394.2 336.6 392.1 336.3 390.0 336.0C387.9 335.7 385.8 335.2 383.8 335.0C381.7 334.8 379.6 334.5 377.5 334.4C373.3 334.2 369.2 334.1 365.0 334.0C356.7 333.9 348.3 333.8 340.0 333.8C323.3 333.8 306.7 334.0 290.0 334.0C267.0 334.0 244.0 333.9 221.0 333.8C212.7 333.7 204.3 333.6 196.0 333.5C187.7 333.4 179.3 333.3 171.0 333.1C166.8 333.0 162.7 332.9 158.5 332.8C154.3 332.6 150.2 332.3 146.0 331.9C142.3 331.5 138.7 330.4 135.0 330.0C130.0 329.4 125.0 328.8 120.0 328.8C116.7 328.8 113.3 328.9 110.0 329.0C105.8 329.2 101.7 330.4 97.5 331.2C93.3 332.1 89.2 333.7 85.0 334.4C79.8 335.3 74.7 336.1 69.5 336.5Z"/>
</g>
<g stroke="#2a2a2a" stroke-width="1" fill="none">
<line x1="69.5" x2="69.5" y1="4.2" y2="338.9"/>
<line x1="65" x2="673.5" y1="338.4" y2="338.4"/>
</g>
<g stroke="#222" stroke-width="0.85">
<line x1="65.2" x2="69.5" y1="4.65" y2="4.65"/>
<line x1="65.2" x2="69.5" y1="26.92" y2="26.92"/>
<line x1="65.2" x2="69.5" y1="49.19" y2="49.19"/>
<line x1="65.2" x2="69.5" y1="71.46" y2="71.46"/>
<line x1="65.2" x2="69.5" y1="93.73" y2="93.73"/>
<line x1="65.2" x2="69.5" y1="116.00" y2="116.00"/>
<line x1="65.2" x2="69.5" y1="138.27" y2="138.27"/>
<line x1="65.2" x2="69.5" y1="160.54" y2="160.54"/>
<line x1="65.2" x2="69.5" y1="182.81" y2="182.81"/>
<line x1="65.2" x2="69.5" y1="205.08" y2="205.08"/>
<line x1="65.2" x2="69.5" y1="227.35" y2="227.35"/>
<line x1="65.2" x2="69.5" y1="249.62" y2="249.62"/>
<line x1="65.2" x2="69.5" y1="271.89" y2="271.89"/>
<line x1="65.2" x2="69.5" y1="294.16" y2="294.16"/>
<line x1="65.2" x2="69.5" y1="316.43" y2="316.43"/>
<line x1="65.2" x2="69.5" y1="338.70" y2="338.70"/>
<line x1="69.50" x2="69.50" y1="338.4" y2="341.6"/>
<line x1="120.50" x2="120.50" y1="338.4" y2="341.6"/>
<line x1="170.50" x2="170.50" y1="338.4" y2="341.6"/>
<line x1="220.50" x2="220.50" y1="338.4" y2="341.6"/>
<line x1="270.50" x2="270.50" y1="338.4" y2="341.6"/>
<line x1="321.50" x2="321.50" y1="338.4" y2="341.6"/>
<line x1="371.50" x2="371.50" y1="338.4" y2="341.6"/>
<line x1="421.50" x2="421.50" y1="338.4" y2="341.6"/>
<line x1="471.50" x2="471.50" y1="338.4" y2="341.6"/>
<line x1="522.50" x2="522.50" y1="338.4" y2="341.6"/>
<line x1="572.50" x2="572.50" y1="338.4" y2="341.6"/>
<line x1="622.50" x2="622.50" y1="338.4" y2="341.6"/>
<line x1="673.50" x2="673.50" y1="338.4" y2="341.6"/>
</g>
<path d="M404 337.55L673.5 337.55" stroke="#7a4a22" stroke-width="1.25" fill="none"/>
<path d="M646 333.3H673.5" stroke="#7c6ca6" stroke-width="2.6" stroke-dasharray="2.2 0.7 1.4 0.6 2.6 0.8 1.1 0.5" opacity="0.7" fill="none"/>
<g>
<text x="64.0" y="11.9" text-anchor="end" font-size="15.2">3000</text>
<text x="64.0" y="66.9" text-anchor="end" font-size="15.2">2500</text>
<text x="64.0" y="121.9" text-anchor="end" font-size="15.2">2000</text>
<text x="64.0" y="176.9" text-anchor="end" font-size="15.2">1500</text>
<text x="64.0" y="232.9" text-anchor="end" font-size="15.2">1000</text>
<text x="64.0" y="288.4" text-anchor="end" font-size="15.2">500</text>
<text x="56.7" y="338.0" text-anchor="end" font-size="15.2">0</text>
<text x="70.3" y="354.0" text-anchor="middle" font-size="16.8">0</text>
<text x="120.6" y="354.0" text-anchor="middle" font-size="16.8">1</text>
<text x="170.8" y="354.0" text-anchor="middle" font-size="16.8">2</text>
<text x="221.1" y="354.0" text-anchor="middle" font-size="16.8">3</text>
<text x="271.3" y="354.0" text-anchor="middle" font-size="16.8">4</text>
<text x="321.6" y="354.0" text-anchor="middle" font-size="16.8">5</text>
<text x="371.9" y="354.0" text-anchor="middle" font-size="16.8">6</text>
<text x="422.1" y="354.0" text-anchor="middle" font-size="16.8">7</text>
<text x="472.4" y="354.0" text-anchor="middle" font-size="16.8">8</text>
<text x="522.6" y="354.0" text-anchor="middle" font-size="16.8">9</text>
<text x="572.9" y="355.3" text-anchor="middle" font-size="16.8">10</text>
<text x="624.4" y="354.0" text-anchor="middle" font-size="16.8">11</text>
<text x="678.5" y="353.0" text-anchor="middle" font-size="16.8">12</text>
</g>
<text transform="translate(19,217.8) rotate(-90)" font-size="22.8">Encounters</text>
<text x="333" y="382" font-size="23">Months</text>
<g>
<rect x="464.0" y="3.1" width="35" height="18" fill="#0c0cf5"/>
<text x="503.2" y="17.5" font-size="15.5">Oral Feeding only</text>
<rect x="463.8" y="28.1" width="35" height="18" fill="#33c833"/>
<text x="502.5" y="42.8" font-size="15.5">Nasal Tube + Oral</text>
<rect x="463.6" y="51.0" width="35" height="18" fill="#8a1fef"/>
<text x="501.8" y="65.2" font-size="15.5">Nasal Tube only</text>
<rect x="464.0" y="74.0" width="35" height="18" fill="#e81717"/>
<text x="502.4" y="87.5" font-size="15.5">Gastric tube only</text>
<rect x="464.0" y="98.2" width="35" height="18" fill="#1fcfd6"/>
<text x="502.4" y="112.5" font-size="15.5">Gastric Tube +Oral</text>
<rect x="464.0" y="122.2" width="35" height="18" fill="#8c5222"/>
<text x="503.0" y="136.2" font-size="15.5">Total Parenteral Nutrition</text>
</g>
</svg>
</body></html>
